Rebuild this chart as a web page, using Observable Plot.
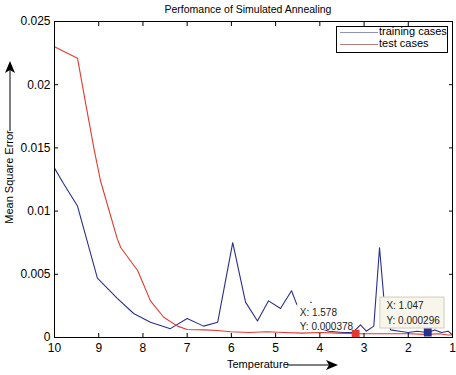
<!DOCTYPE html>
<html>
<head>
<meta charset="utf-8">
<script src="https://cdn.jsdelivr.net/npm/d3@7"></script>
<script src="https://cdn.jsdelivr.net/npm/@observablehq/plot@0.6"></script>
<style>
  html, body { margin: 0; padding: 0; background: #fff; }
  #chart { position: relative; width: 456px; height: 375px; }
</style>
</head>
<body>
<div id="chart"></div>
<script>
// ---- data ----
const title = "Perfomance of Simulated Annealing";
const xLabel = "Temperature";
const yLabel = "Mean Square Error";
const seriesNames = ["training cases", "test cases"];
const xTicks = [10, 9, 8, 7, 6, 5, 4, 3, 2, 1];
const yTicks = [0, 0.005, 0.01, 0.015, 0.02, 0.025];

const trainT = [10, 9.8, 9.48, 9.03, 8.58, 8.21, 7.83, 7.38, 7.0, 6.63, 6.31, 5.97, 5.68, 5.41, 5.16, 4.89, 4.64, 4.53, 4.35, 4.2, 4.05, 3.8, 3.5, 3.25, 3.08, 2.95, 2.78, 2.65, 2.55, 2.4, 2.2, 2.0, 1.8, 1.56, 1.4, 1.25, 1.1, 1.0];
const trainMSE = [0.0134, 0.0122, 0.0104, 0.0047, 0.0031, 0.0019, 0.0012, 0.0007, 0.0015, 0.0009, 0.0012, 0.0075, 0.0028, 0.0013, 0.0029, 0.0023, 0.0037, 0.0027, 0.0016, 0.0028, 0.0008, 0.0005, 0.0004, 0.0004, 0.0010, 0.0005, 0.0009, 0.0071, 0.0030, 0.0006, 0.0005, 0.0004, 0.0005, 0.0004, 0.0006, 0.0004, 0.0005, 0.0002];

const testT = [10, 9.48, 9.30, 9.10, 8.96, 8.58, 8.5, 8.12, 7.83, 7.53, 7.22, 7.0, 6.6, 6.31, 6.02, 5.6, 5.2, 4.8, 4.4, 4.0, 3.6, 3.2, 2.8, 2.4, 2.0, 1.6, 1.3, 1.1, 1.0];
const testMSE = [0.0230, 0.0221, 0.0186, 0.0148, 0.0124, 0.0078, 0.0071, 0.0053, 0.0029, 0.0016, 0.0009, 0.00063, 0.0006, 0.00055, 0.00045, 0.0004, 0.00045, 0.0004, 0.00035, 0.0004, 0.00035, 0.0003, 0.0003, 0.0003, 0.0003, 0.00025, 0.0003, 0.0002, 0.0002];

// data-cursor markers and their tip boxes (data units)
const markerT = [3.19, 1.56];
const markerMSE = [0.0003, 0.0004];
const markerSeries = ["test cases", "training cases"];
const tipBoxX1 = [4.50, 2.63];
const tipBoxX2 = [3.26, 1.18];
const tipBoxY1 = [0.00055, 0.00071];
const tipBoxY2 = [0.00269, 0.00316];
const tipTextX = [4.50, 2.54];
const tipLineX = ["X: 1.578", "X: 1.047"];
const tipLineY = ["Y: 0.000378", "Y: 0.000296"];
const tipLineXy = [0.00198, 0.00253];
const tipLineYy = [0.00087, 0.00134];

// ---- build tables ----
const colors = {"training cases": "#2b2f8c", "test cases": "#e23a30"};
const train = trainT.map((t, i) => ({t, v: trainMSE[i]}));
const test = testT.map((t, i) => ({t, v: testMSE[i]}));
const markers = markerT.map((t, i) => ({t, v: markerMSE[i], s: markerSeries[i]}));
const tips = tipBoxX1.map((x1, i) => ({
  x1, x2: tipBoxX2[i], y1: tipBoxY1[i], y2: tipBoxY2[i],
  tx: tipTextX[i], lx: tipLineX[i], ly: tipLineY[i], yx: tipLineXy[i], yy: tipLineYy[i], i
}));

const font = "'Liberation Sans', Arial, sans-serif";

const chart = Plot.plot({
  width: 456,
  height: 375,
  marginLeft: 54,
  marginRight: 4,
  marginTop: 21,
  marginBottom: 38,
  style: {fontFamily: font, fontSize: "12px", background: "#fff", color: "#000"},
  x: {domain: [10, 1], label: null},
  y: {domain: [0, 0.025], label: null},
  marks: [
    Plot.line(train, {x: "t", y: "v", stroke: colors["training cases"], strokeWidth: 1.1}),
    Plot.line(test, {x: "t", y: "v", stroke: colors["test cases"], strokeWidth: 1.1}),
    Plot.rect(tips, {x1: "x1", x2: "x2", y1: "y1", y2: "y2",
      fill: d => d.i === 0 ? "#ffffff" : "#f8f6ea",
      stroke: d => d.i === 0 ? "none" : "#cfcdbd", strokeWidth: 1}),
    Plot.text(tips, {x: "tx", y: "yx", text: "lx", textAnchor: "start", dx: 2, fontSize: 10, fill: "#222"}),
    Plot.text(tips, {x: "tx", y: "yy", text: "ly", textAnchor: "start", dx: 2, fontSize: 10, fill: "#222"}),
    Plot.dot(markers, {x: "t", y: "v", symbol: "square", r: 3.6, fill: d => colors[d.s], stroke: d => colors[d.s]}),
    Plot.frame({stroke: "#000", strokeWidth: 1}),
    Plot.axisX({anchor: "bottom", ticks: xTicks, tickSize: -4, tickPadding: 10, fontSize: 12, label: null, tickFormat: d => String(d)}),
    Plot.axisX({anchor: "top", ticks: xTicks, tickSize: -4, tickFormat: () => "", label: null}),
    Plot.axisY({anchor: "left", ticks: yTicks, tickSize: -4, tickPadding: 8, fontSize: 12, label: null, tickFormat: d => String(d)}),
    Plot.axisY({anchor: "right", ticks: yTicks, tickSize: -4, tickFormat: () => "", label: null})
  ]
});

document.getElementById("chart").appendChild(chart);

// ---- decorations: title, axis labels with arrows, legend ----
const svg = d3.select(chart);
const g = svg.append("g").attr("font-family", font).attr("fill", "#000").attr("text-anchor", "start");

g.append("text").attr("x", 248).attr("y", 10).attr("text-anchor", "middle")
  .attr("dominant-baseline", "middle").attr("font-size", 10.5).text(title);

// y label with upward arrow
g.append("text").attr("transform", "translate(10,177) rotate(-90)")
  .attr("text-anchor", "middle").attr("dominant-baseline", "middle")
  .attr("font-size", 11).text(yLabel);
g.append("line").attr("x1", 10).attr("x2", 10).attr("y1", 131).attr("y2", 70)
  .attr("stroke", "#000").attr("stroke-width", 1);
g.append("path").attr("d", "M10,61 L5,73 L10,70 L15,73 Z").attr("fill", "#000");

// x label with right arrow
g.append("text").attr("x", 227).attr("y", 365).attr("text-anchor", "start").attr("dominant-baseline", "middle")
  .attr("font-size", 11).text(xLabel);
g.append("line").attr("x1", 287).attr("x2", 330).attr("y1", 365).attr("y2", 365)
  .attr("stroke", "#000").attr("stroke-width", 1);
g.append("path").attr("d", "M338,365 L326,360 L329,365 L326,370 Z").attr("fill", "#000");

// legend
const lg = g.append("g");
lg.append("rect").attr("x", 336.5).attr("y", 26.5).attr("width", 111).attr("height", 26)
  .attr("fill", "#fff").attr("stroke", "#000").attr("stroke-width", 1);
const legendColors = ["#8e93c4", "#b87b78"];
seriesNames.forEach((name, i) => {
  const y = 32.5 + i * 12;
  lg.append("line").attr("x1", 340).attr("x2", 378).attr("y1", y).attr("y2", y)
    .attr("stroke", legendColors[i]).attr("stroke-width", 1.2);
  lg.append("text").attr("x", 379).attr("y", y).attr("text-anchor", "start").attr("dominant-baseline", "middle")
    .attr("font-size", 11).text(name);
});
</script>
</body>
</html>
